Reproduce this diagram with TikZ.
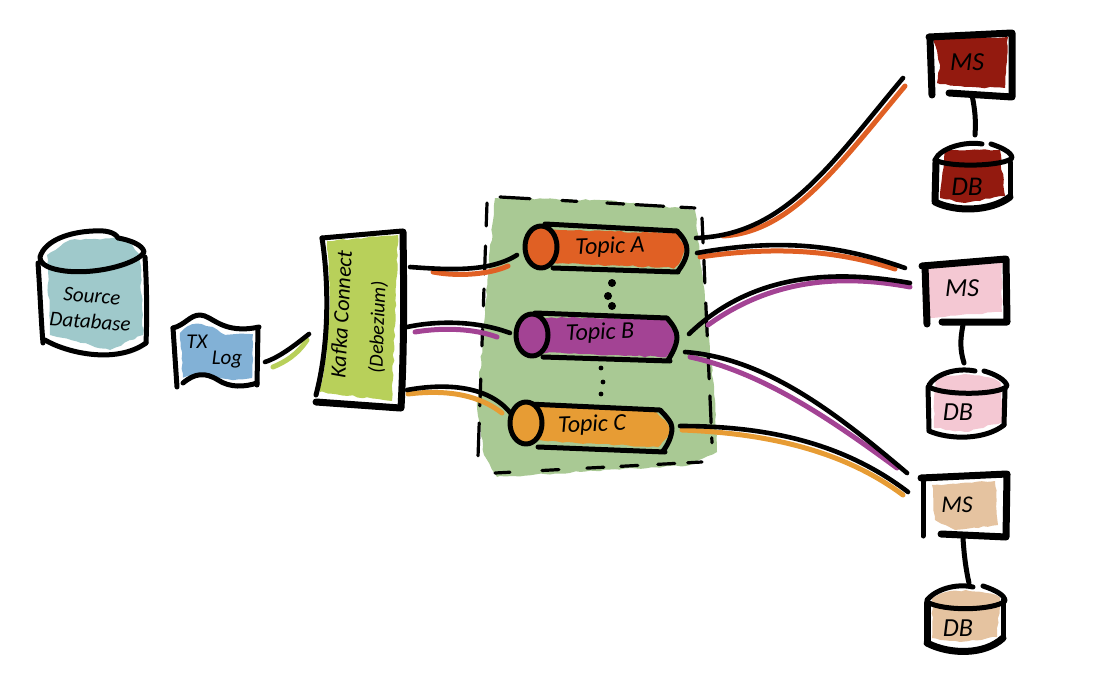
\documentclass[tikz,border=0pt]{standalone}
\usepackage{fontspec}
\setmainfont{Carlito}
\usetikzlibrary{decorations.pathmorphing}
\definecolor{srcblue}{HTML}{9FC9CB}
\definecolor{logblue}{HTML}{82B1D6}
\definecolor{kafkagreen}{HTML}{B8D05A}
\definecolor{bggreen}{HTML}{A9C994}
\definecolor{topicorange}{HTML}{E06024}
\definecolor{topicpurple}{HTML}{A34394}
\definecolor{topicyellow}{HTML}{E79C34}
\definecolor{msred}{HTML}{931A0F}
\definecolor{mspink}{HTML}{F4C8D3}
\definecolor{mstan}{HTML}{E5C3A0}

\begin{document}
\begin{tikzpicture}[
    x=1pt, y=-1pt,
    ink/.style={draw=black, line width=5pt, line cap=round, line join=round},
    thickink/.style={draw=black, line width=7pt, line cap=round, line join=round},
    wire/.style={draw=black, line width=4.6pt, line cap=round},
    under/.style={line width=5pt, line cap=round},
    dashline/.style={draw=black, line width=3.2pt, line cap=round},
    patch/.style={fill=#1, draw=none, decorate, decoration={random steps, segment length=5pt, amplitude=0.9pt}},
    hand/.style={font=\fontsize{#1}{#1}\selectfont\itshape, text=black, inner sep=0pt, align=center},
    hand/.default=24
]
    \useasboundingbox (0,0) rectangle (1102,677);
    \pgfmathsetseed{7}

    % Kafka side wire ends and topic wire ends
    \coordinate (logout) at (265,362);
    \coordinate (kafkain) at (309,334);
    \coordinate (kafkaA) at (410,267);
    \coordinate (kafkaB) at (407,327);
    \coordinate (kafkaC) at (407,390);
    \coordinate (topicAin) at (517,255);
    \coordinate (topicBin) at (510,333);
    \coordinate (topicCin) at (512,415);
    \coordinate (topicAup) at (696,238);
    \coordinate (topicAlow) at (697,253);
    \coordinate (topicBup) at (689,334);
    \coordinate (topicBlow) at (685,352);
    \coordinate (topicCout) at (680,426);
    \coordinate (msredin) at (903,78);
    \coordinate (mspinkA) at (905,268);
    \coordinate (mspinkB) at (910,283);
    \coordinate (mstanB) at (907,473);
    \coordinate (mstanC) at (908,492);

    % Source database
    \path[patch=srcblue] (47,255) -- (70,240) -- (125,238) -- (140,255) -- (143,335) -- (110,350) -- (50,335) -- cycle;
    \draw[ink] (40,257) .. controls (45,240) and (70,232) .. (93,231) .. controls (105,230) and (115,232) .. (118,238) .. controls (130,240) and (143,245) .. (144,252) .. controls (140,262) and (100,275) .. (65,271) .. controls (50,269) and (40,265) .. (40,257);
    \draw[ink] (38,263) .. controls (40,290) and (41,320) .. (43,343);
    \draw[ink] (145,257) .. controls (147,290) and (147,320) .. (146,343);
    \draw[ink] (45,340) .. controls (65,352) and (115,365) .. (146,343);
    \node[hand=21, rotate=-4] (srcdb) at (91,309) {Source\\[5pt]Database};

    % TX log
    \path[patch=logblue] (180,333) .. controls (190,320) and (205,322) .. (225,335) -- (253,334) -- (252,378) .. controls (230,385) and (205,368) .. (183,378) -- cycle;
    \draw[ink] (173,328) .. controls (185,325) and (190,315) .. (200,315) .. controls (212,315) and (222,335) .. (259,327);
    \draw[ink] (173,328) -- (177,387);
    \draw[ink] (258,328) -- (257,385);
    \draw[ink] (183,383) .. controls (195,373) and (205,372) .. (218,380) .. controls (230,388) and (245,387) .. (257,383);
    \node[hand=21] (txtext) at (197,342) {TX};
    \node[hand=21] (logtext) at (227,360) {Log};

    % Wire to Kafka Connect
    \draw[under, kafkagreen] (273,367) .. controls (285,362) and (297,355) .. (307,340);
    \draw[wire] (logout) .. controls (280,357) and (295,345) .. (kafkain);

    % Kafka Connect
    \path[patch=kafkagreen] (327,241) -- (398,235) -- (392,401) -- (320,392) .. controls (330,340) and (332,290) .. (327,241);
    \draw[ink] (322,238) -- (402,231);
    \draw[ink] (322,238) .. controls (330,290) and (328,350) .. (316,395);
    \draw[thickink] (316,402) -- (400,408);
    \draw[thickink] (403,232) .. controls (404,300) and (404,350) .. (401,408);
    \node[hand=22, rotate=87] (kafka) at (341,314) {Kafka Connect};
    \node[hand=20, rotate=88] (debezium) at (378,327) {(Debezium)};

    % Kafka cluster
    \path[patch=bggreen] (495,198) -- (600,200) -- (695,210) -- (705,300) -- (715,400) -- (717,452) -- (690,465) -- (497,477) -- (484,455) -- (477,407) -- (486,300) -- cycle;
    \draw[dashline, dash pattern=on 23pt off 20pt on 28pt off 15pt on 17pt off 23pt on 17pt off 33pt on 27pt off 17pt on 33pt off 99pt] (487,203) -- (478,457);
    \draw[dashline, dash pattern=on 30pt off 32pt on 15pt off 30pt on 17pt off 12pt on 28pt off 17pt on 15pt off 99pt] (500,197) -- (695,208);
    \draw[dashline, dash pattern=on 25pt off 17pt on 23pt off 20pt on 33pt off 20pt on 23pt off 17pt on 27pt off 15pt on 5pt off 99pt] (702,218) -- (712,443);
    \draw[dashline, dash pattern=on 15pt off 32pt on 17pt off 28pt on 17pt off 17pt on 17pt off 20pt on 17pt off 13pt on 15pt off 99pt] (495,473) -- (702,462);

    % Wires into topics
    \draw[under, topicorange] (433,272) .. controls (460,277) and (490,274) .. (508,266);
    \draw[wire] (kafkaA) .. controls (450,270) and (490,272) .. (topicAin);
    \draw[under, topicpurple] (415,332) .. controls (445,327) and (475,329) .. (497,337);
    \draw[wire] (kafkaB) .. controls (435,321) and (475,320) .. (topicBin);
    \draw[under, topicyellow] (408,394) .. controls (450,389) and (480,396) .. (502,413);
    \draw[wire] (kafkaC) .. controls (445,383) and (490,385) .. (topicCin);

    % Topic A
    \path[patch=topicorange] (530,229) -- (675,233) .. controls (682,240) and (684,245) .. (684,250) .. controls (683,258) and (678,265) .. (673,268) -- (535,262) -- cycle;
    \draw[ink] (545,224) -- (677,231) .. controls (684,238) and (687,244) .. (687,250) .. controls (687,258) and (682,266) .. (678,271);
    \draw[ink] (553,268) -- (678,272);
    \draw[ink, fill=topicorange] (541,247) ellipse [x radius=16, y radius=21];
    \node[hand, rotate=2] (topicA) at (610,247) {Topic A};

    % Topic B
    \path[patch=topicpurple] (522,317) -- (665,319) .. controls (671,326) and (674,331) .. (674,337) .. controls (674,345) and (669,353) .. (665,357) -- (530,352) -- cycle;
    \draw[ink] (535,313) -- (667,318) .. controls (673,325) and (677,331) .. (677,337) .. controls (677,345) and (672,354) .. (668,360);
    \draw[ink] (543,357) -- (670,361);
    \draw[ink, fill=topicpurple] (532,335) ellipse [x radius=16, y radius=21];
    \node[hand, rotate=2] (topicB) at (600,333) {Topic B};

    % Topic C
    \path[patch=topicyellow] (515,405) -- (655,411) .. controls (663,418) and (669,423) .. (669,428) .. controls (668,437) and (662,444) .. (658,447) -- (525,440) -- cycle;
    \draw[ink] (528,404) -- (660,410) .. controls (667,417) and (672,423) .. (672,428) .. controls (672,437) and (667,446) .. (663,451);
    \draw[ink] (538,447) -- (665,452);
    \draw[ink, fill=topicyellow] (526,423) ellipse [x radius=16, y radius=21];
    \node[hand, rotate=2] (topicC) at (592,425) {Topic C};

    % Dots between topics
    \fill (612,283) circle (4);
    \fill (608,296) circle (4);
    \fill (612,306) circle (4);
    \fill (601,368) circle (2.4);
    \fill (603,382) circle (2.4);
    \fill (601,394) circle (2.4);

    % Wires out of topics
    \draw[under, topicorange] (723,236) .. controls (790,232) and (835,170) .. (905,86);
    \draw[wire] (topicAup) .. controls (785,235) and (830,165) .. (msredin);
    \draw[under, topicorange] (700,257) .. controls (775,246) and (835,250) .. (895,269);
    \draw[wire] (topicAlow) .. controls (780,238) and (840,245) .. (mspinkA);
    \draw[under, topicpurple] (708,325) .. controls (765,284) and (830,272) .. (910,287);
    \draw[wire] (topicBup) .. controls (740,285) and (810,265) .. (mspinkB);
    \draw[under, topicpurple] (690,357) .. controls (760,372) and (825,415) .. (897,468);
    \draw[wire] (topicBlow) .. controls (765,358) and (835,412) .. (mstanB);
    \draw[under, topicyellow] (682,430) .. controls (760,433) and (840,448) .. (903,495);
    \draw[wire] (topicCout) .. controls (760,426) and (840,440) .. (mstanC);

    % Microservice red
    \path[patch=msred] (933,38) -- (1008,37) -- (1005,88) -- (965,87) -- (937,83) -- (940,65) -- cycle;
    \draw[thickink] (929,37) -- (1012,33) -- (1012,97) -- (949,93);
    \draw[thickink] (930,38) -- (932,95);
    \node[hand=26] (msA) at (967,62) {MS};
    \coordinate (msAout) at (972,95);
    \coordinate (dbAin) at (975,135);
    \draw[ink] (msAout) .. controls (975,110) and (976,120) .. (dbAin);
    \path[patch=msred] (945,150) -- (1000,150) -- (1005,196) -- (965,203) -- (940,198) -- cycle;
    \draw[ink] (935,160) .. controls (940,148) and (965,141) .. (982,144);
    \draw[ink] (991,144) .. controls (1000,147) and (1012,152) .. (1012,158) .. controls (1005,166) and (950,168) .. (935,160);
    \draw[thickink] (936,162) -- (935,201);
    \draw[ink] (1010,162) -- (1010,197);
    \draw[thickink] (935,202) .. controls (955,212) and (990,212) .. (1010,197);
    \node[hand=27] (dbA) at (967,187) {DB};

    % Microservice pink
    \path[patch=mspink] (927,268) -- (1002,262) -- (1002,312) -- (960,315) -- (930,318) -- cycle;
    \draw[thickink] (922,266) -- (1006,259) -- (1007,322) -- (942,322);
    \draw[thickink] (925,266) -- (927,324);
    \node[hand=26] (msB) at (962,288) {MS};
    \coordinate (msBout) at (963,325);
    \coordinate (dbBin) at (964,363);
    \draw[ink] (msBout) .. controls (960,340) and (960,350) .. (dbBin);
    \path[patch=mspink] (935,380) .. controls (950,372) and (985,372) .. (1000,383) -- (1003,422) -- (965,432) -- (934,428) -- cycle;
    \draw[ink] (929,385) .. controls (935,375) and (955,367) .. (975,371);
    \draw[ink] (984,371) .. controls (995,374) and (1006,380) .. (1007,386) .. controls (1000,395) and (945,396) .. (929,387);
    \draw[ink] (928,387) -- (929,430);
    \draw[ink] (1005,389) -- (1004,425);
    \draw[ink] (929,431) .. controls (950,440) and (985,440) .. (1004,425);
    \node[hand=26] (dbB) at (958,412) {DB};

    % Microservice tan
    \path[patch=mstan] (932,485) -- (995,481) -- (998,525) -- (955,530) -- (935,520) -- cycle;
    \draw[thickink] (921,478) -- (1007,474) -- (1006,537) -- (941,534);
    \draw[ink] (923,479) -- (923,536);
    \node[hand=24] (msC) at (957,505) {MS};
    \coordinate (msCout) at (963,538);
    \coordinate (dbCin) at (969,583);
    \draw[ink] (msCout) .. controls (964,555) and (966,570) .. (dbCin);
    \path[patch=mstan] (932,598) .. controls (950,588) and (985,588) .. (1000,598) -- (997,637) -- (960,642) -- (932,638) -- cycle;
    \draw[ink] (927,600) .. controls (935,590) and (955,583) .. (973,587);
    \draw[ink] (983,586) .. controls (995,590) and (1005,595) .. (1005,601) .. controls (995,610) and (945,612) .. (927,602);
    \draw[thickink] (927,603) -- (927,642);
    \draw[ink] (1003,600) -- (1003,637);
    \draw[thickink] (927,643) .. controls (950,655) and (985,655) .. (1003,638);
    \node[hand=26] (dbC) at (958,628) {DB};
\end{tikzpicture}
\end{document}
